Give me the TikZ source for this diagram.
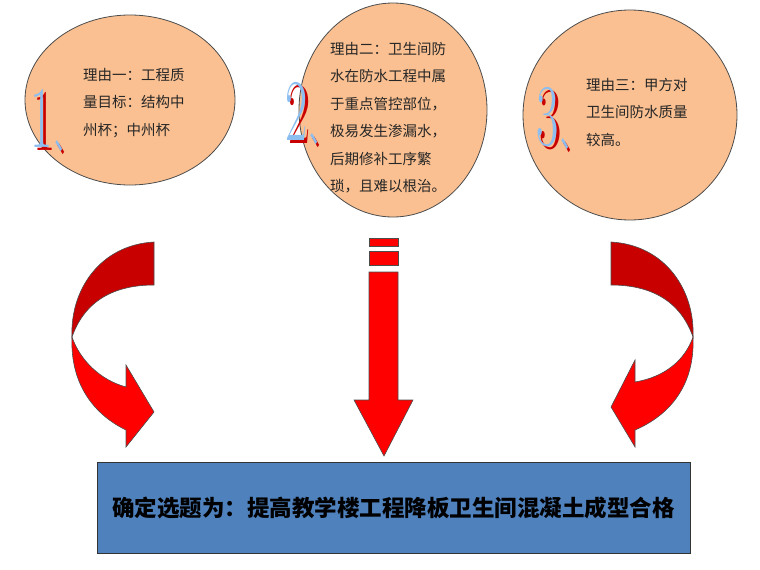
\documentclass[tikz,border=0pt]{standalone}
\usepackage{fontspec}
\newfontfamily\cjk{Noto Sans CJK SC}
\usetikzlibrary{shapes.geometric}
\definecolor{peach}{RGB}{250,192,145}
\definecolor{boxblue}{RGB}{79,129,189}
\definecolor{darkred}{RGB}{200,0,0}
\definecolor{numblue}{RGB}{140,190,240}
\begin{document}
\begin{tikzpicture}[x=1pt,y=-1pt,
  oval/.style={ellipse,draw=black!70,fill=peach,line width=0.8pt,inner sep=0pt},
  reason/.style={font=\cjk\fontsize{14.5}{27.5}\selectfont,align=left,anchor=north west,inner sep=0pt,text=black!85},
  ribbon/.style={draw=black!70,line width=0.6pt},
  numtxt/.style={font=\fontsize{88}{88}\selectfont,inner sep=0pt,anchor=base west,xscale=0.55},
  commatxt/.style={font=\cjk\fontsize{40}{40}\selectfont,inner sep=0pt,anchor=base west,xscale=0.6}]
\useasboundingbox (0,0) rectangle (760,570);
\node[oval,minimum width=210,minimum height=170] (e1) at (130,100) {};
\node[oval,minimum width=188,minimum height=214] (e2) at (393,110) {};
\node[oval,minimum width=214,minimum height=210] (e3) at (630,115) {};
\node[reason] (t1) at (83,68) {理由一：工程质\\量目标：结构中\\州杯；中州杯};
\node[reason] (t2) at (330,42) {理由二：卫生间防\\水在防水工程中属\\于重点管控部位，\\极易发生渗漏水，\\后期修补工序繁\\琐，且难以根治。};
\node[reason] (t3) at (586,78) {理由三：甲方对\\卫生间防水质量\\较高。};
% numerals
\foreach \n/\x/\y in {1/30/147,2/285/140,3/536/145}{
  \node[numtxt,text=darkred] at (\x+3,\y+3) {\n};
  \node[numtxt,text=numblue] at (\x,\y) {\n};
  \node[commatxt,text=darkred] at (\x+26,\y+5) {、};
  \node[commatxt,text=numblue] at (\x+24,\y+2) {、};
}
% left curved arrow
\fill[darkred,ribbon] (154,242) .. controls (100,245) and (70,290) .. (72,337)
  .. controls (85,300) and (115,285) .. (154,285) -- cycle;
\fill[red,ribbon] (72,337) .. controls (80,360) and (100,380) .. (126,387) -- (126,365) -- (154,412)
  -- (126,447) -- (126,430) .. controls (95,415) and (70,385) .. (72,337) -- cycle;
% right curved arrow (mirror)
\fill[darkred,ribbon] (611,242) .. controls (665,245) and (695,290) .. (693,337)
  .. controls (680,300) and (650,285) .. (611,285) -- cycle;
\fill[red,ribbon] (693,337) .. controls (685,360) and (665,377) .. (635,382) -- (635,360) -- (611,407)
  -- (635,447) -- (635,430) .. controls (670,415) and (695,385) .. (693,337) -- cycle;
% middle arrow
\fill[red,ribbon] (369,238) rectangle (398,246);
\fill[red,ribbon] (369,251) rectangle (398,265);
\fill[red,ribbon] (369,272) -- (398,272) -- (398,400) -- (413,400) -- (384,456) -- (354,400) -- (369,400) -- cycle;
% box
\node[draw=black!80,fill=boxblue,line width=0.8pt,minimum width=593,minimum height=91,inner sep=0pt,
  font=\cjk\bfseries\fontsize{22.5}{26}\selectfont] (box) at (393.5,507.5) {确定选题为：提高教学楼工程降板卫生间混凝土成型合格};
\end{tikzpicture}
\end{document}
